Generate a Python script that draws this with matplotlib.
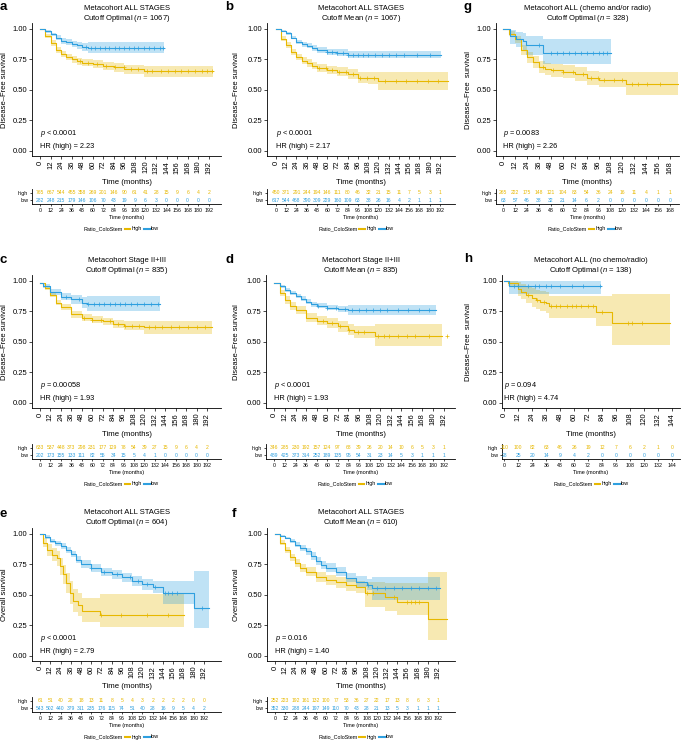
import numpy as np
import matplotlib.pyplot as plt
from matplotlib.lines import Line2D

plt.rcParams['font.family'] = ['Liberation Sans', 'DejaVu Sans']
plt.rcParams['mathtext.fontset'] = 'custom'
plt.rcParams['mathtext.rm'] = 'Liberation Sans'
plt.rcParams['mathtext.it'] = 'Liberation Sans:italic'

yellow = '#E7B800'
blue = '#2E9FDF'

#================ data ================
# t = step times (months), s = survival, l/u = confidence band, c = censor times

a_high_t = [0, 6, 12, 18, 24, 30, 36, 42, 48, 60, 72, 84, 96, 108, 118, 197]
a_high_s = [1.0, 0.94, 0.885, 0.83, 0.795, 0.77, 0.75, 0.735, 0.725, 0.71, 0.70, 0.685, 0.67, 0.668, 0.655, 0.655]
a_high_l = [1.0, 0.923, 0.863, 0.805, 0.768, 0.742, 0.72, 0.705, 0.694, 0.678, 0.667, 0.65, 0.633, 0.628, 0.61, 0.61]
a_high_u = [1.0, 0.957, 0.907, 0.855, 0.822, 0.798, 0.78, 0.765, 0.756, 0.742, 0.733, 0.72, 0.707, 0.708, 0.70, 0.70]
a_high_c = [45, 55, 65, 75, 85, 95, 103, 112, 122, 128, 138, 146, 154, 160, 168, 176, 184, 190, 196]
a_low_t = [0, 6, 12, 18, 24, 30, 36, 42, 48, 54, 141]
a_low_s = [1.0, 0.98, 0.955, 0.93, 0.905, 0.89, 0.88, 0.865, 0.85, 0.845, 0.845]
a_low_l = [1.0, 0.97, 0.94, 0.91, 0.88, 0.865, 0.85, 0.835, 0.82, 0.805, 0.805]
a_low_u = [1.0, 0.99, 0.97, 0.95, 0.93, 0.915, 0.905, 0.895, 0.885, 0.89, 0.89]
a_low_c = [52, 58, 63, 68, 74, 79, 85, 90, 96, 101, 107, 112, 118, 124, 130, 136, 140]
a_risk_high = [765, 667, 544, 455, 358, 269, 201, 146, 90, 61, 41, 28, 15, 9, 6, 4, 2]
a_risk_low = [282, 248, 215, 179, 146, 106, 70, 43, 19, 9, 6, 3, 0, 0, 0, 0, 0]

b_high_t = [0, 6, 12, 18, 24, 30, 36, 42, 48, 60, 72, 84, 96, 108, 120, 201]
b_high_s = [1.0, 0.92, 0.87, 0.81, 0.77, 0.74, 0.72, 0.70, 0.68, 0.665, 0.65, 0.63, 0.60, 0.595, 0.575, 0.575]
b_high_l = [1.0, 0.90, 0.845, 0.783, 0.742, 0.711, 0.69, 0.669, 0.648, 0.631, 0.614, 0.592, 0.555, 0.545, 0.50, 0.50]
b_high_u = [1.0, 0.94, 0.895, 0.837, 0.798, 0.769, 0.75, 0.731, 0.712, 0.699, 0.686, 0.668, 0.645, 0.645, 0.65, 0.65]
b_high_c = [50, 58, 66, 74, 82, 90, 98, 106, 115, 128, 140, 152, 165, 178, 190]
b_low_t = [0, 6, 12, 18, 24, 30, 36, 42, 48, 60, 72, 84, 193]
b_low_s = [1.0, 0.985, 0.965, 0.93, 0.895, 0.875, 0.863, 0.845, 0.827, 0.81, 0.805, 0.79, 0.79]
b_low_l = [1.0, 0.977, 0.953, 0.915, 0.878, 0.856, 0.843, 0.823, 0.804, 0.785, 0.778, 0.762, 0.762]
b_low_u = [1.0, 0.993, 0.977, 0.945, 0.912, 0.894, 0.883, 0.867, 0.85, 0.835, 0.832, 0.818, 0.818]
b_low_c = [60, 66, 72, 78, 84, 90, 96, 102, 108, 116, 124, 132, 140, 150, 165, 180]
b_risk_high = [450, 371, 291, 244, 194, 146, 111, 80, 46, 32, 21, 15, 11, 7, 5, 3, 1]
b_risk_low = [617, 544, 468, 390, 309, 229, 160, 109, 63, 38, 26, 16, 4, 2, 1, 1, 1]

g_high_t = [0, 6, 12, 18, 24, 30, 36, 42, 48, 60, 72, 84, 96, 124, 176]
g_high_s = [1.0, 0.96, 0.915, 0.83, 0.77, 0.73, 0.69, 0.67, 0.66, 0.65, 0.63, 0.60, 0.585, 0.553, 0.553]
g_high_l = [1.0, 0.94, 0.885, 0.79, 0.725, 0.683, 0.64, 0.62, 0.61, 0.598, 0.575, 0.542, 0.525, 0.46, 0.46]
g_high_u = [1.0, 0.98, 0.945, 0.87, 0.815, 0.777, 0.74, 0.72, 0.71, 0.702, 0.685, 0.658, 0.645, 0.65, 0.65]
g_high_c = [40, 50, 60, 70, 80, 88, 95, 102, 112, 120, 130, 136, 145, 158]
g_low_t = [0, 7, 13, 20, 23, 40, 109]
g_low_s = [1.0, 0.94, 0.915, 0.90, 0.865, 0.80, 0.80]
g_low_l = [1.0, 0.88, 0.85, 0.83, 0.79, 0.71, 0.71]
g_low_u = [1.0, 0.99, 0.975, 0.965, 0.94, 0.915, 0.915]
g_low_c = [36, 48, 54, 60, 66, 72, 78, 84, 90, 96, 100, 105]
g_risk_high = [265, 222, 175, 148, 121, 104, 83, 54, 36, 24, 16, 11, 4, 1, 1]
g_risk_low = [63, 57, 46, 38, 32, 21, 14, 6, 2, 0, 0, 0, 0, 0, 0]

c_high_t = [0, 6, 12, 18, 24, 36, 48, 60, 72, 84, 96, 108, 120, 198]
c_high_s = [0.985, 0.94, 0.886, 0.823, 0.785, 0.727, 0.70, 0.681, 0.668, 0.649, 0.635, 0.635, 0.619, 0.619]
c_high_l = [0.985, 0.925, 0.865, 0.80, 0.76, 0.70, 0.672, 0.652, 0.637, 0.615, 0.598, 0.595, 0.564, 0.564]
c_high_u = [0.985, 0.955, 0.907, 0.846, 0.81, 0.754, 0.728, 0.71, 0.699, 0.683, 0.672, 0.675, 0.673, 0.673]
c_high_c = [50, 60, 70, 80, 90, 98, 106, 114, 125, 132, 140, 150, 160, 170, 180, 190]
c_low_t = [0, 3, 12, 24, 36, 48, 54, 138]
c_low_s = [0.985, 0.96, 0.913, 0.872, 0.85, 0.823, 0.81, 0.81]
c_low_l = [0.985, 0.945, 0.888, 0.843, 0.815, 0.78, 0.75, 0.75]
c_low_u = [0.985, 0.975, 0.938, 0.90, 0.885, 0.865, 0.875, 0.875]
c_low_c = [30, 45, 55, 62, 68, 74, 80, 86, 92, 98, 104, 112, 120, 128, 136]
c_risk_high = [633, 537, 448, 373, 298, 231, 177, 129, 78, 54, 39, 27, 15, 9, 6, 4, 2]
c_risk_low = [202, 173, 155, 133, 111, 82, 55, 34, 15, 5, 4, 1, 0, 0, 0, 0, 0]

d_high_t = [0, 6, 12, 18, 24, 36, 48, 60, 72, 84, 90, 114, 190]
d_high_s = [0.98, 0.90, 0.845, 0.796, 0.763, 0.70, 0.673, 0.654, 0.627, 0.60, 0.58, 0.55, 0.55]
d_high_l = [0.98, 0.875, 0.815, 0.765, 0.73, 0.665, 0.636, 0.615, 0.585, 0.555, 0.53, 0.47, 0.47]
d_high_u = [0.98, 0.925, 0.875, 0.827, 0.796, 0.735, 0.71, 0.693, 0.669, 0.645, 0.63, 0.65, 0.65]
d_high_c = [55, 65, 75, 85, 95, 102, 118, 124, 130, 140, 150, 160, 175, 196]
d_low_t = [0, 6, 12, 18, 24, 30, 36, 42, 48, 60, 72, 84, 183]
d_low_s = [0.985, 0.955, 0.926, 0.90, 0.88, 0.855, 0.83, 0.81, 0.796, 0.782, 0.768, 0.762, 0.762]
d_low_l = [0.985, 0.945, 0.913, 0.885, 0.863, 0.837, 0.81, 0.79, 0.775, 0.76, 0.745, 0.725, 0.725]
d_low_u = [0.985, 0.965, 0.939, 0.915, 0.897, 0.873, 0.85, 0.83, 0.817, 0.804, 0.791, 0.80, 0.80]
d_low_c = [50, 60, 70, 80, 88, 96, 104, 112, 120, 128, 140, 152, 164, 176]
d_risk_high = [346, 285, 230, 192, 157, 124, 97, 68, 39, 26, 20, 14, 10, 6, 5, 3, 1]
d_risk_low = [489, 425, 373, 314, 252, 189, 135, 95, 54, 31, 23, 14, 5, 3, 1, 1, 1]

h_high_t = [0, 3.4, 12, 14, 19, 23.4, 27, 30.6, 36, 38, 78.6, 92.6, 142]
h_high_s = [1.0, 0.986, 0.937, 0.91, 0.886, 0.858, 0.845, 0.83, 0.817, 0.796, 0.749, 0.654, 0.654]
h_high_l = [1.0, 0.96, 0.88, 0.85, 0.82, 0.79, 0.77, 0.75, 0.735, 0.70, 0.63, 0.477, 0.477]
h_high_u = [1.0, 1.0, 0.99, 0.975, 0.96, 0.94, 0.93, 0.92, 0.91, 0.88, 0.88, 0.89, 0.89]
h_high_c = [20, 28, 34, 40, 44, 48, 54, 58, 62, 66, 72, 76, 84, 106, 110, 118]
h_low_t = [0, 4, 83]
h_low_s = [1.0, 0.959, 0.959]
h_low_l = [1.0, 0.89, 0.89]
h_low_u = [1.0, 1.0, 1.0]
h_low_c = [8, 12, 20, 26, 30, 36, 40, 48, 58, 68, 82]
h_risk_high = [110, 100, 82, 63, 46, 26, 19, 12, 7, 6, 2, 1, 0]
h_risk_low = [28, 25, 20, 14, 9, 4, 2, 0, 0, 0, 0, 0, 0]

e_high_t = [0, 4, 8, 14, 20, 23, 27, 31, 35, 39, 45, 49, 70, 169]
e_high_s = [1.0, 0.93, 0.87, 0.83, 0.80, 0.736, 0.67, 0.60, 0.52, 0.45, 0.42, 0.37, 0.34, 0.34]
e_high_l = [1.0, 0.89, 0.82, 0.775, 0.735, 0.665, 0.59, 0.515, 0.43, 0.36, 0.33, 0.275, 0.237, 0.237]
e_high_u = [1.0, 0.97, 0.92, 0.885, 0.86, 0.805, 0.745, 0.68, 0.615, 0.545, 0.52, 0.475, 0.504, 0.504]
e_high_c = [72, 95, 125, 150]
e_low_t = [0, 6, 12, 18, 24, 30, 36, 42, 48, 60, 72, 84, 96, 108, 120, 132, 144, 180, 198]
e_low_s = [1.0, 0.975, 0.946, 0.925, 0.90, 0.87, 0.837, 0.79, 0.755, 0.722, 0.689, 0.668, 0.646, 0.613, 0.586, 0.564, 0.518, 0.395, 0.395]
e_low_l = [1.0, 0.962, 0.93, 0.905, 0.877, 0.845, 0.81, 0.762, 0.725, 0.69, 0.655, 0.632, 0.608, 0.572, 0.543, 0.515, 0.43, 0.232, 0.232]
e_low_u = [1.0, 0.988, 0.962, 0.945, 0.923, 0.895, 0.864, 0.818, 0.785, 0.754, 0.723, 0.704, 0.684, 0.654, 0.629, 0.613, 0.615, 0.695, 0.695]
e_low_c = [60, 75, 90, 105, 115, 125, 135, 146, 150, 155, 160, 190]
e_risk_high = [61, 51, 40, 28, 18, 13, 11, 8, 5, 4, 3, 2, 2, 2, 2, 0, 0]
e_risk_low = [543, 502, 440, 379, 311, 235, 176, 115, 74, 51, 40, 28, 16, 9, 5, 4, 2]

f_high_t = [0, 6, 12, 18, 24, 30, 36, 48, 60, 72, 84, 96, 106, 130, 144, 180, 202]
f_high_s = [1.0, 0.93, 0.87, 0.81, 0.76, 0.72, 0.69, 0.65, 0.624, 0.604, 0.582, 0.569, 0.514, 0.486, 0.445, 0.30, 0.30]
f_high_l = [1.0, 0.91, 0.845, 0.782, 0.728, 0.686, 0.652, 0.61, 0.582, 0.56, 0.536, 0.52, 0.40, 0.37, 0.335, 0.129, 0.129]
f_high_u = [1.0, 0.95, 0.895, 0.838, 0.792, 0.754, 0.728, 0.69, 0.666, 0.648, 0.628, 0.618, 0.61, 0.60, 0.596, 0.692, 0.692]
f_high_c = [108, 115, 140, 155, 160, 165, 170]
f_low_t = [0, 6, 12, 18, 24, 30, 36, 42, 48, 54, 60, 72, 84, 96, 108, 114, 194]
f_low_s = [1.0, 0.985, 0.967, 0.94, 0.912, 0.885, 0.857, 0.82, 0.775, 0.745, 0.725, 0.692, 0.643, 0.61, 0.582, 0.555, 0.555]
f_low_l = [1.0, 0.978, 0.955, 0.924, 0.892, 0.862, 0.831, 0.79, 0.742, 0.71, 0.689, 0.654, 0.603, 0.568, 0.537, 0.46, 0.46]
f_low_u = [1.0, 0.992, 0.979, 0.956, 0.932, 0.908, 0.883, 0.85, 0.808, 0.78, 0.761, 0.73, 0.683, 0.652, 0.627, 0.65, 0.65]
f_low_c = [110, 120, 130, 140, 150, 160, 170, 180, 190]
f_risk_high = [252, 223, 192, 161, 132, 100, 77, 53, 36, 27, 22, 17, 13, 8, 6, 3, 1]
f_risk_low = [352, 330, 288, 244, 197, 149, 110, 70, 43, 28, 21, 13, 5, 3, 1, 1, 1]

months_192 = [0, 12, 24, 36, 48, 60, 72, 84, 96, 108, 120, 132, 144, 156, 168, 180, 192]
months_168 = [0, 12, 24, 36, 48, 60, 72, 84, 96, 108, 120, 132, 144, 156, 168]
months_144 = [0, 12, 24, 36, 48, 60, 72, 84, 96, 108, 120, 132, 144]

dfs = 'Disease\u2013Free survival'
os_ = 'Overall survival'

panels = {
    'a': dict(t1='Metacohort ALL STAGES', cut='Optimal', n=1067, p='< 0.0001', hr='2.23', ylab=dfs,
              high=(a_high_t, a_high_s, a_high_l, a_high_u, a_high_c),
              low=(a_low_t, a_low_s, a_low_l, a_low_u, a_low_c),
              months=months_192, rh=a_risk_high, rl=a_risk_low),
    'b': dict(t1='Metacohort ALL STAGES', cut='Mean', n=1067, p='< 0.0001', hr='2.17', ylab=dfs,
              high=(b_high_t, b_high_s, b_high_l, b_high_u, b_high_c),
              low=(b_low_t, b_low_s, b_low_l, b_low_u, b_low_c),
              months=months_192, rh=b_risk_high, rl=b_risk_low),
    'g': dict(t1='Metacohort ALL (chemo and/or radio)', cut='Optimal', n=328, p='= 0.0083', hr='2.26',
              ylab='Disease\u2013Free  survival',
              high=(g_high_t, g_high_s, g_high_l, g_high_u, g_high_c),
              low=(g_low_t, g_low_s, g_low_l, g_low_u, g_low_c),
              months=months_168, rh=g_risk_high, rl=g_risk_low),
    'c': dict(t1='Metacohort Stage II+III', cut='Optimal', n=835, p='= 0.00058', hr='1.93', ylab=dfs,
              high=(c_high_t, c_high_s, c_high_l, c_high_u, c_high_c),
              low=(c_low_t, c_low_s, c_low_l, c_low_u, c_low_c),
              months=months_192, rh=c_risk_high, rl=c_risk_low),
    'd': dict(t1='Metacohort Stage II+III', cut='Mean', n=835, p='< 0.0001', hr='1.93', ylab=dfs,
              high=(d_high_t, d_high_s, d_high_l, d_high_u, d_high_c),
              low=(d_low_t, d_low_s, d_low_l, d_low_u, d_low_c),
              months=months_192, rh=d_risk_high, rl=d_risk_low),
    'h': dict(t1='Metacohort ALL (no chemo/radio)', cut='Optimal', n=138, p='= 0.094', hr='4.74',
              ylab='Disease\u2013Free  survival',
              high=(h_high_t, h_high_s, h_high_l, h_high_u, h_high_c),
              low=(h_low_t, h_low_s, h_low_l, h_low_u, h_low_c),
              months=months_144, rh=h_risk_high, rl=h_risk_low),
    'e': dict(t1='Metacohort ALL STAGES', cut='Optimal', n=604, p='< 0.0001', hr='2.79', ylab=os_,
              high=(e_high_t, e_high_s, e_high_l, e_high_u, e_high_c),
              low=(e_low_t, e_low_s, e_low_l, e_low_u, e_low_c),
              months=months_192, rh=e_risk_high, rl=e_risk_low),
    'f': dict(t1='Metacohort ALL STAGES', cut='Mean', n=610, p='= 0.016', hr='1.40', ylab=os_,
              high=(f_high_t, f_high_s, f_high_l, f_high_u, f_high_c),
              low=(f_low_t, f_low_s, f_low_l, f_low_u, f_low_c),
              months=months_192, rh=f_risk_high, rl=f_risk_low),
}

#================ layout (pixels) ================
W, H = 685, 741
# spine x, right x, row, xlim, ylabel x, letter x, letter baseline
layout = {
    'a': (32, 221, 0, (-9.2, 206), 5, 0, 10),
    'b': (267, 455, 0, (-10.5, 209.6), 237, 225, 10),
    'g': (496, 679, 0, (-7.2, 177), 469, 464, 10),
    'c': (32, 221, 1, (-9.2, 208), 5, 0, 263),
    'd': (266, 455, 1, (-9.5, 205), 237, 225, 263),
    'h': (502, 680, 1, (-2, 151), 469, 464, 262),
    'e': (32, 221, 2, (-9.4, 212), 5, 0, 517),
    'f': (267, 455, 2, (-9.4, 212), 236, 232, 517),
}
main_top = [23, 275, 528]
main_h = 133
table_top = [189, 444, 697]
table_h = 15


def box(x0, y0, x1, y1):
    return [x0 / W, 1 - y1 / H, (x1 - x0) / W, (y1 - y0) / H]


def fx(x):
    return x / W


def fy(y):
    return 1 - y / H


def step_at(t, s, x):
    idx = np.searchsorted(np.asarray(t), np.asarray(x), side='right') - 1
    return np.asarray(s)[idx]


fig = plt.figure(figsize=(W / 100, H / 100), dpi=100)

for key, pan in panels.items():
    x0, x1, row, xl, ylx, lx, ly = layout[key]
    top = main_top[row]
    ax = fig.add_axes(box(x0, top, x1, top + main_h))

    for grp, col in (('high', yellow), ('low', blue)):
        t, s, l, u, c = pan[grp]
        ax.fill_between(t, l, u, step='post', color=col, alpha=0.3, lw=0)
    for grp, col in (('high', yellow), ('low', blue)):
        t, s, l, u, c = pan[grp]
        ax.step(t, s, where='post', color=col, lw=0.8)
        ax.plot(c, step_at(t, s, c), ls='none', marker='+', ms=2.5, mew=0.5, color=col)

    ax.set_xlim(xl)
    ax.set_ylim(-0.041, 1.049)
    ax.set_xticks(pan['months'])
    ax.set_xticklabels([str(m) for m in pan['months']], rotation=90, fontsize=5.5)
    ax.set_yticks([0, 0.25, 0.5, 0.75, 1.0])
    ax.set_yticklabels(['0.00', '0.25', '0.50', '0.75', '1.00'], fontsize=5.5)
    for sp in ('top', 'right'):
        ax.spines[sp].set_visible(False)
    for sp in ('left', 'bottom'):
        ax.spines[sp].set_linewidth(0.6)
    ax.tick_params(length=2, width=0.5, pad=1.5)

    ax.text(0, 0.14, r'$\mathit{p}$ ' + pan['p'], fontsize=5.3, va='center')
    ax.text(0, 0.04, 'HR (high) = ' + pan['hr'], fontsize=5.3, va='center')

    cx = (x0 + x1) / 2
    fig.text(fx(cx), fy(top - 15), pan['t1'], fontsize=5.5, ha='center', va='center')
    fig.text(fx(cx), fy(top - 5), 'Cutoff ' + pan['cut'] + r' ($\mathit{n}$ = ' + str(pan['n']) + ')',
             fontsize=5.5, ha='center', va='center')
    fig.text(fx(cx), fy(top + main_h + 26), 'Time (months)', fontsize=5.6, ha='center', va='center')
    fig.text(fx(ylx), fy(top + 67), pan['ylab'], fontsize=5.5, rotation=90, ha='center', va='center')
    fig.text(fx(lx), fy(ly), key, fontsize=9.5, fontweight='bold', ha='left', va='baseline')

    # risk table
    tt = table_top[row]
    axt = fig.add_axes(box(x0, tt, x1, tt + table_h))
    axt.set_xlim(xl)
    axt.set_ylim(-0.57, 1.57)
    for m, nh, nl in zip(pan['months'], pan['rh'], pan['rl']):
        axt.text(m, 1, str(nh), color=yellow, fontsize=3.6, ha='center', va='center')
        axt.text(m, 0, str(nl), color=blue, fontsize=3.6, ha='center', va='center')
    axt.set_yticks([0, 1])
    axt.set_yticklabels(['low', 'high'], fontsize=3.8)
    axt.set_xticks(pan['months'])
    axt.set_xticklabels([str(m) for m in pan['months']], fontsize=3.8)
    axt.set_xlabel('Time (months)', fontsize=4, labelpad=1.5)
    for sp in ('top', 'right'):
        axt.spines[sp].set_visible(False)
    for sp in ('left', 'bottom'):
        axt.spines[sp].set_linewidth(0.6)
    axt.tick_params(length=1.5, width=0.5, pad=1.2)

    # legend
    lgy = fy(tt + table_h + 25)
    fig.text(fx(x0 + 91), lgy, 'Ratio_ColoStem', fontsize=3.9, ha='right', va='center')
    fig.add_artist(Line2D([fx(x0 + 92.5), fx(x0 + 98)], [lgy, lgy], color=yellow, lw=1.5))
    fig.text(fx(x0 + 99.5), lgy, 'high', fontsize=3.9, ha='left', va='center')
    fig.add_artist(Line2D([fx(x0 + 112), fx(x0 + 117.5)], [lgy, lgy], color=blue, lw=1.5))
    fig.text(fx(x0 + 119), lgy, 'low', fontsize=3.9, ha='left', va='center')

fig.savefig('out.png', dpi=100)
